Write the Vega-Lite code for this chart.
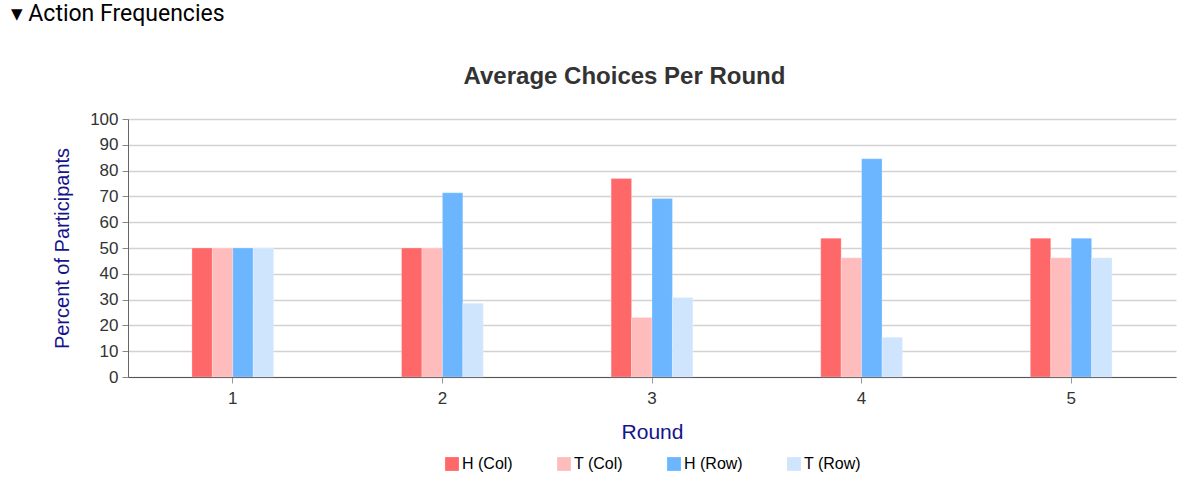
{
  "$schema": "https://vega.github.io/schema/vega-lite/v6.json",
  "width": 1196,
  "height": 478,
  "autosize": {"type": "fit", "contains": "padding"},
  "padding": {"left": 10, "right": 20, "top": 3, "bottom": 6},
  "background": "white",
  "title": {
    "text": "▾ Action Frequencies",
    "anchor": "start",
    "frame": "bounds",
    "dx": -42,
    "fontSize": 23,
    "font": "Roboto",
    "fontWeight": "normal",
    "color": "#000000",
    "offset": 38
  },
  "data": {
    "values": [
      {"round": "1", "series": "H (Col)", "value": 50},
      {"round": "1", "series": "T (Col)", "value": 50},
      {"round": "1", "series": "H (Row)", "value": 50},
      {"round": "1", "series": "T (Row)", "value": 50},
      {"round": "2", "series": "H (Col)", "value": 50},
      {"round": "2", "series": "T (Col)", "value": 50},
      {"round": "2", "series": "H (Row)", "value": 71.4},
      {"round": "2", "series": "T (Row)", "value": 28.6},
      {"round": "3", "series": "H (Col)", "value": 76.9},
      {"round": "3", "series": "T (Col)", "value": 23.1},
      {"round": "3", "series": "H (Row)", "value": 69.2},
      {"round": "3", "series": "T (Row)", "value": 30.8},
      {"round": "4", "series": "H (Col)", "value": 53.8},
      {"round": "4", "series": "T (Col)", "value": 46.2},
      {"round": "4", "series": "H (Row)", "value": 84.6},
      {"round": "4", "series": "T (Row)", "value": 15.4},
      {"round": "5", "series": "H (Col)", "value": 53.8},
      {"round": "5", "series": "T (Col)", "value": 46.2},
      {"round": "5", "series": "H (Row)", "value": 53.8},
      {"round": "5", "series": "T (Row)", "value": 46.2}
    ]
  },
  "layer": [
    {
      "mark": {"type": "bar", "stroke": "#ffffff", "strokeOpacity": 0.25, "strokeWidth": 1},
      "encoding": {
        "x": {
          "field": "round",
          "type": "ordinal",
          "scale": {"paddingInner": 0.61, "paddingOuter": 0.305},
          "axis": {
            "orient": "bottom",
            "title": "Round",
            "labelAngle": 0,
            "labelFont": "Liberation Sans",
            "labelFontSize": 17,
            "labelColor": "#333333",
            "labelPadding": 7,
            "tickColor": "#999999",
            "tickSize": 6,
            "domainColor": "#555555",
            "domainWidth": 1,
            "titleFont": "Liberation Sans",
            "titleFontSize": 21,
            "titleFontWeight": "normal",
            "titleColor": "#14148c",
            "titlePadding": 15,
            "grid": false
          }
        },
        "xOffset": {
          "field": "series",
          "sort": ["H (Col)", "T (Col)", "H (Row)", "T (Row)"]
        },
        "y": {
          "field": "value",
          "type": "quantitative",
          "scale": {"domain": [0, 100], "nice": false},
          "axis": {
            "title": "Percent of Participants",
            "values": [0, 10, 20, 30, 40, 50, 60, 70, 80, 90, 100],
            "labelFont": "Liberation Sans",
            "labelFontSize": 17,
            "labelColor": "#333333",
            "labelPadding": 4,
            "tickColor": "#888888",
            "tickSize": 6,
            "domainColor": "#666666",
            "gridColor": "#d2d2d2",
            "gridWidth": 1.5,
            "titleFont": "Liberation Sans",
            "titleFontSize": 20,
            "titleFontWeight": "normal",
            "titleColor": "#14148c",
            "titlePadding": 17
          }
        },
        "color": {
          "field": "series",
          "type": "nominal",
          "scale": {
            "domain": ["H (Col)", "T (Col)", "H (Row)", "T (Row)"],
            "range": ["#ff6868", "#ffbcbc", "#6cb5ff", "#cfe5fe"]
          },
          "legend": {
            "orient": "bottom",
            "direction": "horizontal",
            "title": null,
            "symbolType": "square",
            "symbolSize": 190,
            "symbolStrokeWidth": 0,
            "labelFont": "Liberation Sans",
            "labelFontSize": 16,
            "labelColor": "#000000",
            "labelOffset": 2,
            "columnPadding": 43,
            "offset": 14
          }
        }
      }
    },
    {
      "mark": {"type": "point", "opacity": 0},
      "encoding": {
        "x": {
          "field": "round",
          "type": "ordinal",
          "axis": {
            "orient": "top",
            "title": "Average Choices Per Round",
            "labels": false,
            "ticks": false,
            "domain": false,
            "grid": false,
            "titleFont": "Liberation Sans",
            "titleFontSize": 24,
            "titleFontWeight": "bold",
            "titleColor": "#333333",
            "titlePadding": 31,
            "titleX": 496,
            "titleAlign": "center"
          }
        }
      }
    }
  ],
  "resolve": {"axis": {"x": "independent"}},
  "config": {
    "view": {"stroke": null},
    "axisY": {"grid": true},
    "legend": {"layout": {"bottom": {"anchor": "middle"}}}
  }
}
